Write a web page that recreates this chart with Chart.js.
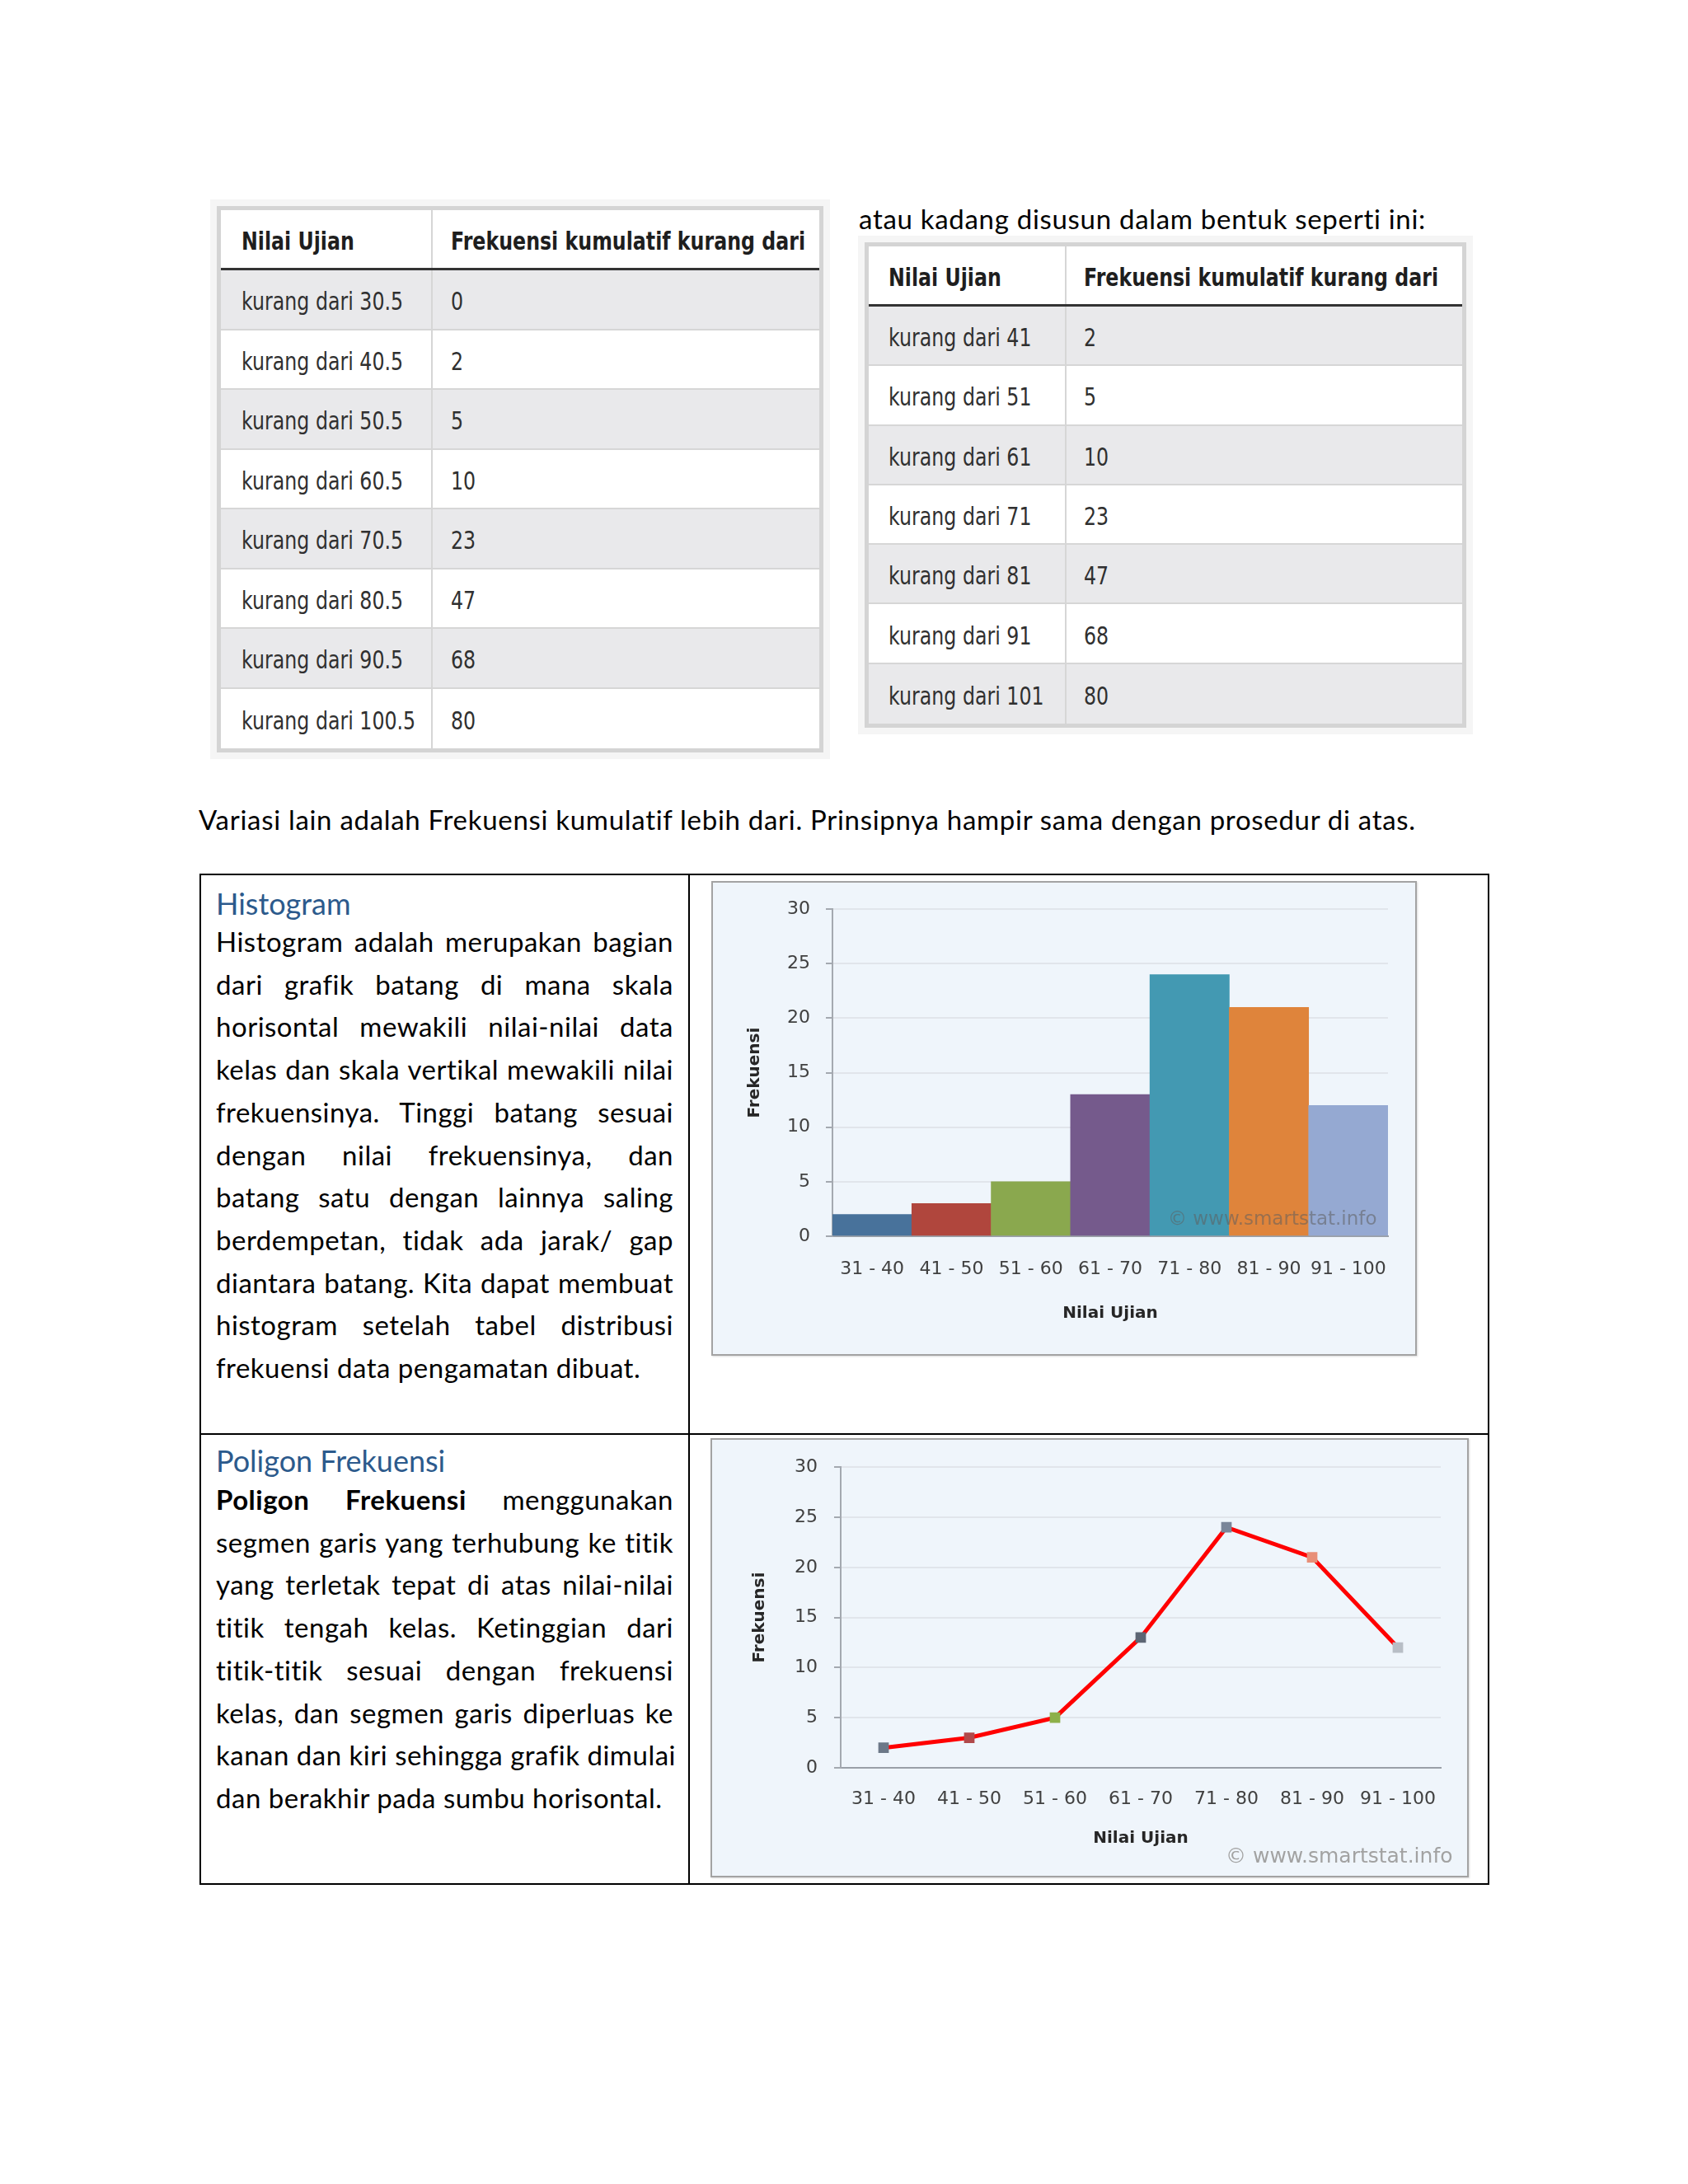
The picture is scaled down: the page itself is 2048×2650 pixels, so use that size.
<!DOCTYPE html>
<html>
<head>
<meta charset="utf-8">
<script src="https://cdn.jsdelivr.net/npm/chart.js@4.4.1/dist/chart.umd.min.js"></script>
<style>
html, body { margin: 0; padding: 0; background: #fff; }
body { width: 2048px; height: 2650px; position: relative; overflow: hidden; font-family: Lato, 'Open Sans', sans-serif; color: #000; }
.teks { position: absolute; height: 52px; line-height: 52px; font-size: 33px; letter-spacing: 0.7px; white-space: nowrap; }
.line { position: absolute; left: 262px; width: 555px; height: 52px; line-height: 52px; font-size: 33px; letter-spacing: 0.5px; white-space: nowrap; text-align: justify; text-align-last: justify; }
.line.last { text-align: left; text-align-last: left; }
.judul { position: absolute; left: 262px; height: 52px; line-height: 52px; font-size: 36px; color: #2c5a8c; white-space: nowrap; }
.tabel { position: absolute; box-sizing: border-box; border: 5px solid #d4d4d4; background: #fff; outline: 8px solid #f5f5f5;
         font-family: 'DejaVu Sans', sans-serif; font-size: 30px; color: #303030; }
.baris { display: flex; box-sizing: border-box; border-bottom: 2px solid #d6d6d6; }
.baris:last-child { border-bottom: none; }
.sel { display: flex; align-items: center; box-sizing: border-box; height: 100%; padding-top: 5px; white-space: nowrap; overflow: visible; }
.sel.kiri { border-right: 2px solid #d6d6d6; flex: none; }
.isi { display: inline-block; transform: scaleX(0.79); transform-origin: left center; }
.kepala { font-weight: bold; color: #1e1e1e; border-bottom: 3px solid #333; }
.abu { background: #e9e9eb; }
.garis { position: absolute; background: #000; }
.kotak { position: absolute; box-sizing: border-box; border: 2px solid #a3a3a3; background: #eff5fb; box-shadow: 1px 1px 2px rgba(0,0,0,0.15); }
.kotak canvas { position: absolute; left: 0; top: 0; }
.wm { position: absolute; font-family: 'DejaVu Sans', sans-serif; white-space: nowrap; }
</style>
</head>
<body>

<div id="tabel1" class="tabel" style="left:263px; top:250px; width:736px; height:663px;"></div>
<div class="teks" style="left:1042px; top:239px;">atau kadang disusun dalam bentuk seperti ini:</div>
<div id="tabel2" class="tabel" style="left:1049px; top:294px; width:730px; height:589px;"></div>

<div class="teks" style="left:241px; top:968px;">Variasi lain adalah Frekuensi kumulatif lebih dari. Prinsipnya hampir sama dengan prosedur di atas.</div>

<!-- bingkai tabel besar -->
<div class="garis" style="left:242px; top:1060px; width:1565px; height:2px;"></div>
<div class="garis" style="left:242px; top:2285px; width:1565px; height:2px;"></div>
<div class="garis" style="left:242px; top:1060px; width:2px; height:1227px;"></div>
<div class="garis" style="left:1805px; top:1060px; width:2px; height:1227px;"></div>
<div class="garis" style="left:835px; top:1060px; width:2px; height:1227px;"></div>
<div class="garis" style="left:242px; top:1739px; width:1565px; height:2px;"></div>

<div class="judul" style="top:1070px;">Histogram</div>
<div id="teksHistogram"></div>

<div class="judul" style="top:1746px;">Poligon Frekuensi</div>
<div id="teksPoligon"></div>

<div class="kotak" style="left:863px; top:1069px; width:856px; height:576px;">
  <canvas id="histogram" width="852" height="572" style="width:852px; height:572px;"></canvas>
</div>
<div class="wm" style="left:1417px; top:1464px; font-size:23px; line-height:28px; color:rgba(95,95,95,0.55);">© www.smartstat.info</div>

<div class="kotak" style="left:862px; top:1745px; width:920px; height:533px;">
  <canvas id="poligon" width="916" height="529" style="width:916px; height:529px;"></canvas>
</div>
<div class="wm" style="left:1487px; top:2237px; font-size:25px; line-height:30px; color:#a2a2a2;">© www.smartstat.info</div>

<script>
// Data tabel frekuensi kumulatif
const batasKurangDari1 = ['kurang dari 30.5', 'kurang dari 40.5', 'kurang dari 50.5', 'kurang dari 60.5',
                          'kurang dari 70.5', 'kurang dari 80.5', 'kurang dari 90.5', 'kurang dari 100.5'];
const kumulatif1 = [0, 2, 5, 10, 23, 47, 68, 80];

const batasKurangDari2 = ['kurang dari 41', 'kurang dari 51', 'kurang dari 61', 'kurang dari 71',
                          'kurang dari 81', 'kurang dari 91', 'kurang dari 101'];
const kumulatif2 = [2, 5, 10, 23, 47, 68, 80];

// Data grafik
const kelasNilai = ['31 - 40', '41 - 50', '51 - 60', '61 - 70', '71 - 80', '81 - 90', '91 - 100'];
const frekuensi = [2, 3, 5, 13, 24, 21, 12];
const warnaBatang = ['#48729b', '#b0463d', '#8aa84e', '#755a8c', '#4399b2', '#df843b', '#95a9d2'];
const warnaTitik = ['#6c7888', '#b0494a', '#8db049', '#5d6674', '#7a8699', '#e88f78', '#b8bec6'];

// Teks paragraf
const barisHistogram = [
    'Histogram adalah merupakan bagian',
    'dari grafik batang di mana skala',
    'horisontal mewakili nilai-nilai data',
    'kelas dan skala vertikal mewakili nilai',
    'frekuensinya. Tinggi batang sesuai',
    'dengan nilai frekuensinya, dan',
    'batang satu dengan lainnya saling',
    'berdempetan, tidak ada jarak/ gap',
    'diantara batang. Kita dapat membuat',
    'histogram setelah tabel distribusi',
    'frekuensi data pengamatan dibuat.'
];
const barisPoligon = [
    '<b>Poligon</b> <b>Frekuensi</b> menggunakan',
    'segmen garis yang terhubung ke titik',
    'yang terletak tepat di atas nilai-nilai',
    'titik tengah kelas. Ketinggian dari',
    'titik-titik sesuai dengan frekuensi',
    'kelas, dan segmen garis diperluas ke',
    'kanan dan kiri sehingga grafik dimulai',
    'dan berakhir pada sumbu horisontal.'
];

function tulisBaris(containerId, lines, top) {
    const box = document.getElementById(containerId);
    lines.forEach((txt, i) => {
        const d = document.createElement('div');
        d.className = 'line' + (i === lines.length - 1 ? ' last' : '');
        d.style.top = (top + i * 51.7) + 'px';
        d.innerHTML = txt;
        box.appendChild(d);
    });
}

function buatTabel(id, labels, values, lebarKiri, tinggiBaris, padKiri, padKanan) {
    const el = document.getElementById(id);
    const kepala = document.createElement('div');
    kepala.className = 'baris kepala';
    kepala.style.height = '73px';
    kepala.innerHTML = `<div class="sel kiri" style="width:${lebarKiri}px; padding-left:${padKiri}px"><span class="isi">Nilai Ujian</span></div>` +
                       `<div class="sel" style="padding-left:${padKanan}px"><span class="isi">Frekuensi kumulatif kurang dari</span></div>`;
    el.appendChild(kepala);
    labels.forEach((lab, i) => {
        const r = document.createElement('div');
        r.className = 'baris' + (i % 2 === 0 ? ' abu' : '');
        r.style.height = tinggiBaris + 'px';
        r.innerHTML = `<div class="sel kiri" style="width:${lebarKiri}px; padding-left:${padKiri}px"><span class="isi">${lab}</span></div>` +
                      `<div class="sel" style="padding-left:${padKanan}px"><span class="isi">${values[i]}</span></div>`;
        el.appendChild(r);
    });
}

buatTabel('tabel1', batasKurangDari1, kumulatif1, 257, 72.5, 25, 22);
buatTabel('tabel2', batasKurangDari2, kumulatif2, 240, 72.3, 24, 21);
tulisBaris('teksHistogram', barisHistogram, 1116);
tulisBaris('teksPoligon', barisPoligon, 1793);

// Chart defaults
Chart.defaults.font.family = "'DejaVu Sans', sans-serif";
Chart.defaults.color = '#404040';

const fontTick = { size: 22 };
const fontJudul = { size: 20, weight: 'bold' };

function opsiSumbu(cfg) {
    return {
        x: {
            offset: true,
            grid: { display: false, drawTicks: false },
            border: { color: '#9aa0a8', width: 2 },
            ticks: { padding: cfg.xPad, font: fontTick, color: '#404040', maxRotation: 0, autoSkip: false },
            title: { display: true, text: 'Nilai Ujian', font: fontJudul, color: '#262626', padding: { top: 0, bottom: cfg.xTitlePad } },
            afterFit: (s) => { s.height = cfg.xHeight; }
        },
        y: {
            min: 0,
            max: 30,
            ticks: { stepSize: 5, padding: cfg.yPad, font: fontTick, color: '#404040' },
            grid: { color: '#e1e5eb', lineWidth: 2, tickLength: 8, tickColor: '#a4a9b0' },
            border: { color: '#a4a9b0', width: 2 },
            title: { display: true, text: 'Frekuensi', font: fontJudul, color: '#262626', padding: { top: cfg.yTitlePad, bottom: 0 } },
            afterFit: (s) => { s.width = cfg.yWidth; }
        }
    };
}

// Histogram
new Chart(document.getElementById('histogram').getContext('2d'), {
    type: 'bar',
    data: {
        labels: kelasNilai,
        datasets: [{
            data: frekuensi,
            backgroundColor: warnaBatang,
            borderWidth: 0,
            barPercentage: 1,
            categoryPercentage: 1
        }]
    },
    options: {
        responsive: false,
        animation: false,
        devicePixelRatio: 1,
        layout: { padding: { top: 27, right: 33, bottom: 0, left: 0 } },
        plugins: { legend: { display: false }, tooltip: { enabled: false } },
        scales: opsiSumbu({ xPad: 27, xTitlePad: 37, xHeight: 143, yPad: 19, yTitlePad: 39, yWidth: 145 })
    }
});

// Poligon frekuensi
new Chart(document.getElementById('poligon').getContext('2d'), {
    type: 'line',
    data: {
        labels: kelasNilai,
        datasets: [{
            data: frekuensi,
            borderColor: '#ff0000',
            borderWidth: 5,
            tension: 0,
            pointStyle: 'rect',
            pointRadius: 9,
            pointBackgroundColor: warnaTitik,
            pointBorderColor: warnaTitik,
            pointBorderWidth: 0
        }]
    },
    options: {
        responsive: false,
        animation: false,
        devicePixelRatio: 1,
        layout: { padding: { top: 25, right: 32, bottom: 0, left: 0 } },
        plugins: { legend: { display: false }, tooltip: { enabled: false } },
        scales: opsiSumbu({ xPad: 25, xTitlePad: 33, xHeight: 131, yPad: 20, yTitlePad: 46, yWidth: 156 })
    }
});
</script>
</body>
</html>
